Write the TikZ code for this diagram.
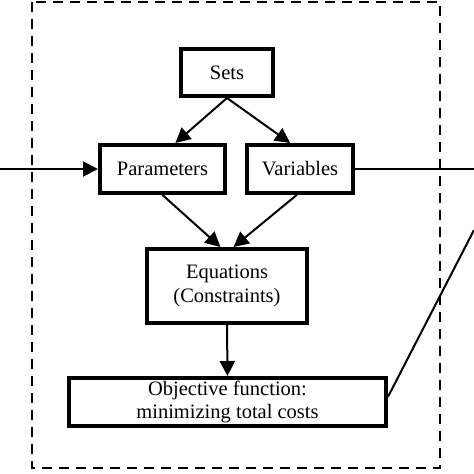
\documentclass[tikz,border=0pt]{standalone}
\usepackage{fontspec}
\setmainfont{Liberation Serif}
\usetikzlibrary{arrows.meta,calc}
\begin{document}
\begin{tikzpicture}[x=1pt,y=-1pt,
  box/.style={draw,line width=4pt,align=center,inner sep=0pt,font=\fontsize{20.5}{23.5}\selectfont},
  conn/.style={line width=2pt},
  arr/.style={conn,-{Triangle[length=15pt,width=15pt]}}]
\useasboundingbox (0,0) rectangle (474,474);
\draw[line width=2.5pt,dash pattern=on 10pt off 7pt] (32,2) rectangle (440,468);
\node[box,minimum width=92pt,minimum height=47pt] (sets) at (227,72.5) {Sets};
\node[box,minimum width=125pt,minimum height=48pt] (par) at (162.5,169) {Parameters};
\node[box,minimum width=106pt,minimum height=48pt] (var) at (300,169) {Variables};
\node[box,minimum width=160pt,minimum height=74pt] (eq) at (227,286) {Equations\\(Constraints)};
\node[box,minimum width=317pt,minimum height=48pt] (obj) at (227.5,402) {Objective function:\\minimizing total costs};
\coordinate (inL) at (0,169);
\coordinate (outR) at (474,169);
\coordinate (backR) at (474,230);
\draw[arr] (sets.south) -- ($(par.north west)!0.6!(par.north east)$);
\draw[arr] (sets.south) -- ($(var.north west)!0.41!(var.north east)$);
\draw[arr] (par.south) -- ($(eq.north west)!0.46!(eq.north east)$);
\draw[arr] ($(var.south west)!0.47!(var.south east)$) -- ($(eq.north west)!0.54!(eq.north east)$);
\draw[arr] (eq.south) -- (obj.north);
\draw[arr] (inL) -- (par.west);
\draw[conn] (var.east) -- (outR);
\draw[conn] (backR) -- ($(obj.north east)!0.4!(obj.south east)$);
\end{tikzpicture}
\end{document}
